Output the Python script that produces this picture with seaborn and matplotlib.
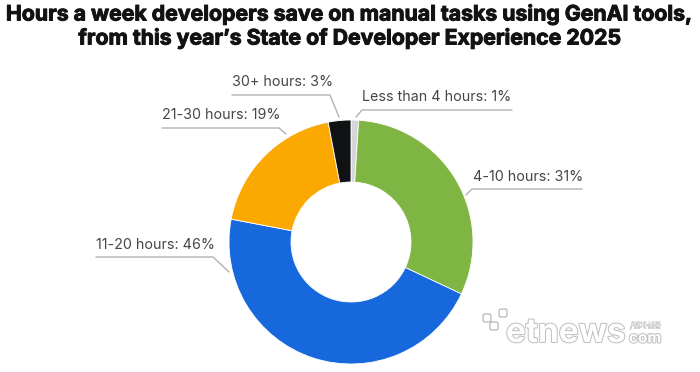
import matplotlib
matplotlib.use("Agg")
import matplotlib.pyplot as plt
import matplotlib.patheffects as pe
from matplotlib.patches import FancyBboxPatch
import seaborn as sns

categories = ["Less than 4 hours", "4-10 hours", "11-20 hours", "21-30 hours", "30+ hours"]
shares = [1, 31, 46, 19, 3]
colors = ["#d4d6d9", "#7fb543", "#1668dc", "#fba800", "#101214"]
title_lines = ["Hours a week developers save on manual tasks using GenAI tools,",
               "from this year\u2019s State of Developer Experience 2025"]

sns.set_theme(style="white")
plt.rcParams["font.family"] = ["Inter", "DejaVu Sans"]

fig = plt.figure(figsize=(7, 3.72), dpi=100)
ax = fig.add_axes([0, 0, 1, 1])

# Inverted y axis: counterclock=True draws clockwise on screen
wedges, _ = ax.pie(shares, colors=colors, startangle=-90, counterclock=True,
                   center=(351, 242), radius=122, frame=True,
                   wedgeprops=dict(width=62, edgecolor="white", linewidth=0.6))
ax.set_xlim(0, 700)
ax.set_ylim(372, 0)
ax.set_aspect("equal")
ax.axis("off")

title_style = dict(ha="center", va="center", fontsize=15.3, fontweight="bold", color="#101214",
                   path_effects=[pe.withStroke(linewidth=0.7, foreground="#101214")])
for i, line in enumerate(title_lines):
    ax.text(350, 14 + 24 * i, line, **title_style)

labels = [
    (362, 97, [(512, 110), (362, 110), (356, 117)]),
    (473, 177, [(582, 189), (472, 189), (466, 195)]),
    (96, 245, [(96, 257), (213, 257), (229, 272)]),
    (162, 115, [(162, 128), (279, 128), (286, 134)]),
    (232, 82, [(232, 95), (330, 95), (339, 117)]),
]
for cat, share, (tx, ty, path) in zip(categories, shares, labels):
    ax.text(tx, ty, f"{cat}: {share}%", ha="left", va="center", fontsize=10.3, color="#444649")
    ax.plot([p[0] for p in path], [p[1] for p in path], color="#b0b2b4", lw=1.0)

shadow = [pe.withStroke(linewidth=1.4, foreground="#bdbdbd")]
ax.text(506, 333, "etnews", fontsize=24, fontweight="bold", color="white",
        ha="left", va="center", path_effects=shadow)
ax.text(629, 338, "com", fontsize=11, fontweight="bold", color="white",
        ha="left", va="center", path_effects=shadow)
ax.text(630, 326, "/\uc804\uc790\uc2e0\ubb38", fontsize=5.5, color="white", ha="left", va="center",
        family=["Noto Sans CJK KR", "DejaVu Sans"],
        path_effects=[pe.withStroke(linewidth=0.8, foreground="#bdbdbd")])
for x, y in [(483, 314), (490, 322), (499, 309)]:
    ax.add_patch(FancyBboxPatch((x, y), 8, 8, boxstyle="round,pad=0,rounding_size=2",
                                facecolor="white", edgecolor="#bdbdbd", lw=1))

fig.savefig("out.png", dpi=100, facecolor="white")
